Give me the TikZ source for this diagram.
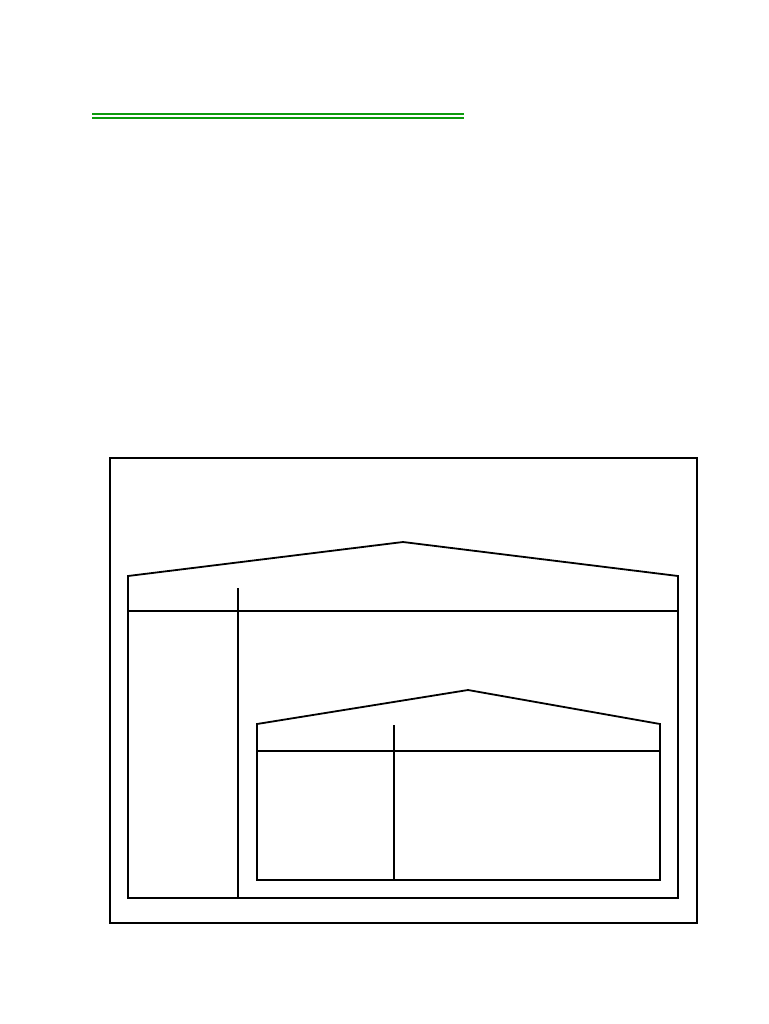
\documentclass[tikz,border=0pt]{standalone}
\usepackage{xcolor}
\definecolor{RuleGreen}{HTML}{0C9A0C}

\begin{document}
\begin{tikzpicture}[
            x=1pt, y=-1pt,
            frame/.style={draw=black, line width=2.4pt},
            wall/.style={draw=black, line width=1.8pt, line join=miter},
            rule/.style={draw=RuleGreen, line width=2pt}
        ]
            \useasboundingbox (0,0) rectangle (768,1024);

            % Green double rule at the top
            \draw[rule] (92,114.2) -- (464,114.2);
            \draw[rule] (92,117.6) -- (464,117.6);

            % Outer frame
            \draw[frame] (110,458) rectangle (697,923);

            % Big house
            \draw[wall] (128,898) -- (128,576) -- (403,542) -- (678,576) -- (678,898) -- cycle;
            \draw[wall] (128,611) -- (678,611);
            \draw[wall] (238,588) -- (238,898);

            % Small house
            \draw[wall] (257,880) -- (257,724) -- (468,690) -- (660,724) -- (660,880) -- cycle;
            \draw[wall] (257,751) -- (660,751);
            \draw[wall] (394,725) -- (394,880);
        \end{tikzpicture}
\end{document}
